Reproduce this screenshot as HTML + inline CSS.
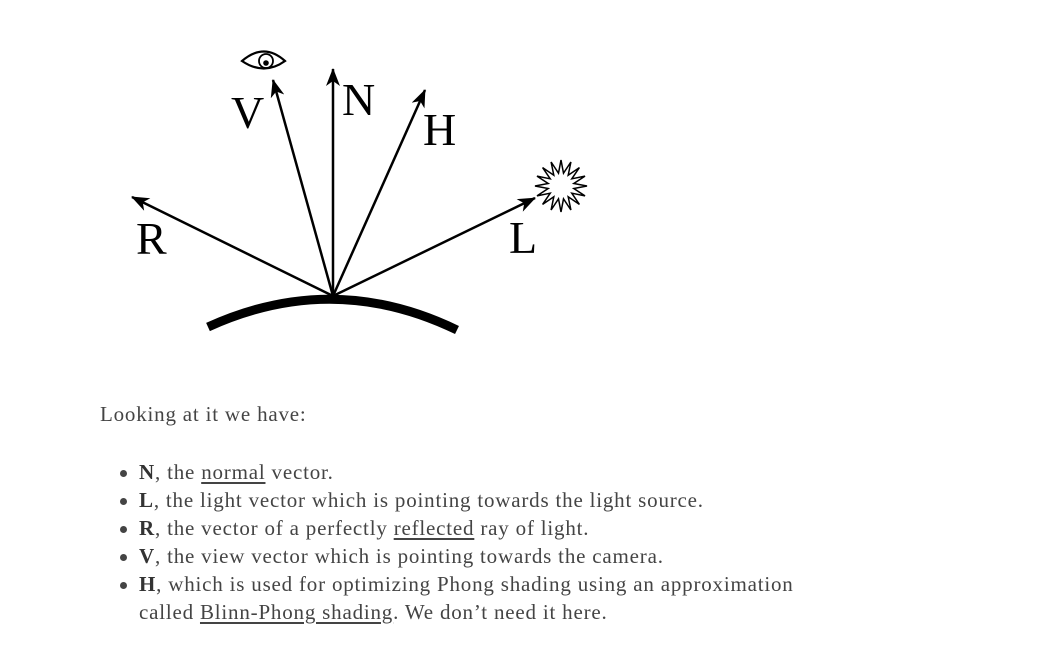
<!DOCTYPE html>
<html><head><meta charset="utf-8"><style>
body{margin:0;width:1048px;height:656px;background:#fff;overflow:hidden;font-family:"Liberation Serif",serif;color:#444;}
svg{position:absolute;left:0;top:0}
.t{position:absolute;left:100px;font-size:21px;white-space:nowrap;letter-spacing:0.8px}
.li{left:139px}
.li:before{content:"";position:absolute;left:-19px;top:10px;width:7px;height:7px;border-radius:50%;background:#444}
u{text-decoration:underline;text-underline-offset:3px}
b{color:#333}
</style></head><body>
<svg width="1048" height="400" viewBox="0 0 1048 400">
<defs><marker id="a" markerWidth="18" markerHeight="14" refX="17" refY="7" orient="auto" markerUnits="userSpaceOnUse"><path d="M0,0 L18,7 L0,14 L5,7 Z" fill="#000"/></marker></defs>
<g stroke="#000" stroke-width="2.5" fill="none">
<line x1="333" y1="296" x2="132" y2="197" marker-end="url(#a)"/>
<line x1="333" y1="296" x2="273" y2="80" marker-end="url(#a)"/>
<line x1="333" y1="296" x2="333" y2="69" marker-end="url(#a)"/>
<line x1="333" y1="296" x2="425" y2="90" marker-end="url(#a)"/>
<line x1="333" y1="296" x2="535" y2="198" marker-end="url(#a)"/>
</g>
<path d="M208,327 Q333,270 457,330" stroke="#000" stroke-width="9" fill="none"/>
<path d="M242,61 Q264,42 285,61 Q264,76 242,61 Z" stroke="#000" stroke-width="2.2" fill="#fff"/>
<circle cx="266" cy="61" r="7" stroke="#000" stroke-width="1.8" fill="none"/>
<circle cx="266" cy="63" r="2.8" fill="#000"/>
<polygon id="sun" fill="#fff" stroke="#000" stroke-width="1.5" points=""/>
<g font-family="Liberation Serif" font-size="46" fill="#000">
<text x="231" y="128">V</text><text x="342" y="115">N</text><text x="423" y="145">H</text>
<text x="136" y="254">R</text><text x="509" y="253">L</text></g>
</svg>
<script>
var p=[],n=16;for(var i=0;i<2*n;i++){var r=i%2?13:26,a=i*Math.PI/n;p.push((561+r*Math.cos(a)).toFixed(1)+","+(186+r*Math.sin(a)).toFixed(1));}
document.getElementById("sun").setAttribute("points",p.join(" "));
</script>
<div class="t" style="top:402px">Looking at it we have:</div>
<div class="t li" style="top:460px"><b>N</b>, the <u>normal</u> vector.</div>
<div class="t li" style="top:488px"><b>L</b>, the light vector which is pointing towards the light source.</div>
<div class="t li" style="top:516px"><b>R</b>, the vector of a perfectly <u>reflected</u> ray of light.</div>
<div class="t li" style="top:544px"><b>V</b>, the view vector which is pointing towards the camera.</div>
<div class="t li" style="top:572px"><b>H</b>, which is used for optimizing Phong shading using an approximation</div>
<div class="t" style="top:600px;left:139px">called <u>Blinn-Phong shading</u>. We don’t need it here.</div>
</body></html>
